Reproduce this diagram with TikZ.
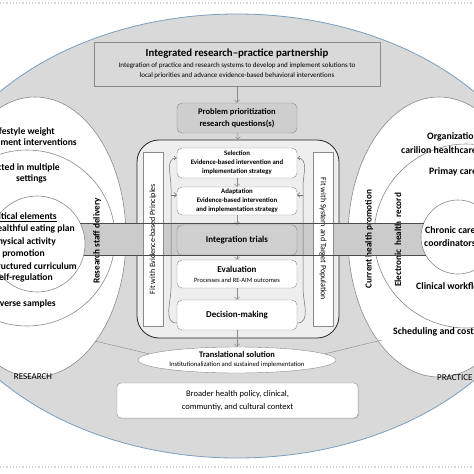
\documentclass[tikz,border=0pt]{standalone}
\usepackage{fontspec}
\setmainfont{Carlito}
\usepackage{tikz}
\usetikzlibrary{
  arrows.meta,
  positioning,
  calc,
  shapes.geometric,
  shadows
}
\definecolor{fieldgray}{HTML}{D9D9D9}
\definecolor{panelgray}{HTML}{EEEEEE}
\definecolor{bandgray}{HTML}{CBCBCB}
\definecolor{rimblue}{HTML}{7F9DB9}
\definecolor{edgegray}{HTML}{8A8A8A}

\begin{document}
\begin{tikzpicture}[x=1pt, y=-1pt,
  ring/.style={draw=edgegray, fill=white, line width=0.6pt},
  rtxt/.style={font=\bfseries\fontsize{9.6}{11}\selectfont, inner sep=0pt, anchor=east},
  ptxt/.style={font=\bfseries\fontsize{9.8}{11}\selectfont, inner sep=0pt, anchor=west},
  rottxt/.style={font=\bfseries\fontsize{9.2}{11}\selectfont, inner sep=0pt, rotate=90},
  stepbox/.style={draw=edgegray, fill=white, rounded corners=5pt, minimum width=120pt,
                  align=center, inner sep=1pt, font=\bfseries\fontsize{6.8}{9}\selectfont},
  fitbox/.style={draw=edgegray, fill=white, minimum width=174pt, minimum height=20pt,
                 font=\fontsize{8}{9}\selectfont, inner sep=1pt},
  arrow/.style={-{Straight Barb[length=2.5pt,width=5pt]}, edgegray, line width=0.5pt},
  fb/.style={edgegray!80!black, line width=0.5pt},
  bandline/.style={gray!60!black, line width=0.6pt},
]
  \useasboundingbox (0,0) rectangle (474,474);
  \clip (0,0) rectangle (474,474);

  % outer field
  \draw[gray!35, dotted, line width=1.2pt] (0,3) -- (474,3);
  \draw[gray!35, dotted, line width=1.2pt] (0,467) -- (474,467);
  \fill[fieldgray] (237,236) ellipse [x radius=312, y radius=222];
  \draw[rimblue, line width=0.8pt] (237,236) ellipse [x radius=312, y radius=222];

  % Research and practice rings
  \draw[ring] (35,237) ellipse [x radius=91, y radius=140];
  \draw[ring] (27,238) circle [radius=88];
  \draw[ring] (439,237) ellipse [x radius=91, y radius=140];
  \draw[ring] (466,236) circle [radius=92];

  % core panel
  \node[draw=black!85, fill=panelgray, rounded corners=22pt, minimum width=202pt,
        minimum height=198pt, line width=0.8pt] (core) at (238,239) {};

  % band
  \fill[bandgray] (60,223) rectangle (430,255);
  \draw[ring] (37,244) circle [radius=48];
  \draw[ring] (458,237) circle [radius=37];

  % left ring texts
  \node[rtxt] (lw1) at (55,132) {Lifestyle weight};
  \node[rtxt] (lw2) at (77,143) {management interventions};
  \node[rtxt] (cs1) at (60,168) {Conducted in multiple};
  \node[rtxt] (cs2) at (47,179) {settings};
  \node[rtxt] (ce0) at (57,217) {\underline{Critical elements}};
  \node[rtxt] (ce1) at (75,229) {Healthful eating plan};
  \node[rtxt] (ce2) at (56,242) {Physical activity};
  \node[rtxt] (ce3) at (45,254) {promotion};
  \node[rtxt] (ce4) at (77,266) {Structured curriculum};
  \node[rtxt] (ce5) at (53,278) {Self-regulation};
  \node[rtxt] (dvs) at (56,304) {Diverse samples};
  \node[rottxt] (rsd) at (97,241) {Research staff delivery};
  \node[font=\fontsize{9}{10}\selectfont, inner sep=0pt] (res) at (33,377) {RESEARCH};

  % right ring texts
  \node[ptxt] (org1) at (427,137) {Organization-};
  \node[ptxt] (org2) at (401,150) {carilion healthcare};
  \node[ptxt] (pcr) at (429,172) {Primay care};
  \node[ptxt] (ccc1) at (425,230) {Chronic care};
  \node[ptxt] (ccc2) at (424,243) {coordinators};
  \node[ptxt] (cwf) at (416,286) {Clinical workflow};
  \node[ptxt] (sac) at (393,332) {Scheduling and costs};
  \node[rottxt] (chp) at (369,239) {Current health promotion};
  \node[rottxt] (ehr) at (398,240) {Electronic \,health\, record};
  \node[font=\fontsize{9}{10}\selectfont, inner sep=0pt, anchor=west] (prc) at (437,378) {PRACTICE};

  % partnership and problem
  \node[draw=edgegray, fill=fieldgray, minimum width=286pt, minimum height=44pt,
        align=center, font=\fontsize{7}{10}\selectfont] (irp) at (237,64)
    {{\bfseries\fontsize{10.8}{12}\selectfont Integrated research--practice partnership}\\[1pt]
     Integration of practice and research systems to develop and implement solutions to\\
     local priorities and advance evidence-based behavioral interventions};
  \node[draw=edgegray, fill=fieldgray!95!black, rounded corners=5pt, minimum width=120pt,
        minimum height=30pt, align=center, font=\bfseries\fontsize{8.5}{12}\selectfont]
    (prob) at (237,118) {Problem prioritization\\research questions(s)};

  % fit boxes
  \node[fitbox, rotate=90]  (fitl) at (153,239) {Fit with Evidence-based Principles};
  \node[fitbox, rotate=-90] (fitr) at (323,239) {Fit with System and Target Population};

  % steps
  \node[stepbox, minimum height=30pt] (sel) at (237,163)
    {Selection\\Evidence-based intervention and\\implementation strategy};
  \node[stepbox, minimum height=28pt] (adp) at (237,201)
    {Adaptation\\Evidence-based intervention\\and implementation strategy};
  \node[stepbox, minimum height=30pt, fill=bandgray!90!white,
        font=\bfseries\fontsize{9}{11}\selectfont] (itr) at (237,240) {Integration trials};
  \node[stepbox, minimum height=28pt, font=\fontsize{6.5}{10}\selectfont] (evl) at (237,274)
    {{\bfseries\fontsize{9}{11}\selectfont Evaluation}\\Processes and RE-AIM outcomes};
  \node[stepbox, minimum height=30pt, font=\bfseries\fontsize{9}{11}\selectfont]
    (dec) at (237,315) {Decision-making};

  % translational solution and context
  \node[ellipse, draw=edgegray, fill=white, minimum width=198pt, minimum height=26pt,
        inner sep=0pt, align=center, font=\fontsize{6.7}{9}\selectfont] (trs) at (237,360)
    {{\bfseries\fontsize{8.5}{10}\selectfont Translational solution}\\
     Institutionalization and sustained implementation};
  \node[draw=edgegray, fill=white, rounded corners=4pt, minimum width=241pt,
        minimum height=35pt, align=center, font=\fontsize{8.5}{13}\selectfont,
        drop shadow={opacity=0.25, shadow xshift=1pt, shadow yshift=-1pt}]
    (ctx) at (237.5,400.5) {Broader health policy, clinical,\\communtiy, and cultural context};

  \coordinate (rl) at (95,341);
  \coordinate (rr) at (382,340);
  \draw[edgegray] (trs.176) -- (rl);
  \draw[edgegray] (trs.4) -- (rr);

  % flow
  \draw[arrow] (irp) -- (prob);
  \draw[arrow] (prob) -- (core.north);
  \draw[arrow] (sel) -- (adp);
  \draw[arrow] (adp) -- (itr);
  \draw[arrow] (itr) -- (evl);
  \draw[arrow] (evl) -- (dec);
  \draw[arrow] (dec) -- (trs);

  % feedback loops
  \coordinate (fbl) at (171,240);
  \coordinate (fbr) at (303,240);
  \draw[fb, -{Straight Barb[length=2.5pt,width=4pt]}]
    ([yshift=-8pt]dec.west) to[out=180,in=-90] (fbl |- evl.south)
    -- (fbl |- adp.north) to[out=90,in=180] ([yshift=5pt]sel.west);
  \draw[fb, -{Straight Barb[length=2.5pt,width=4pt]}]
    ([yshift=-8pt]dec.east) to[out=0,in=-90] (fbr |- evl.south)
    -- (fbr |- adp.north) to[out=90,in=0] ([yshift=5pt]sel.east);
  \draw[fb, -{Straight Barb[length=2.5pt,width=5pt]}] (fbl |- 0,195) -- (adp.west |- 0,195);
  \draw[fb, -{Straight Barb[length=2.5pt,width=5pt]}] (fbr |- 0,195) -- (adp.east |- 0,195);

  % band edges
  \draw[bandline] (80,223) -- (424,223);
  \draw[bandline] (84,255) -- (426,255);
\end{tikzpicture}
\end{document}
